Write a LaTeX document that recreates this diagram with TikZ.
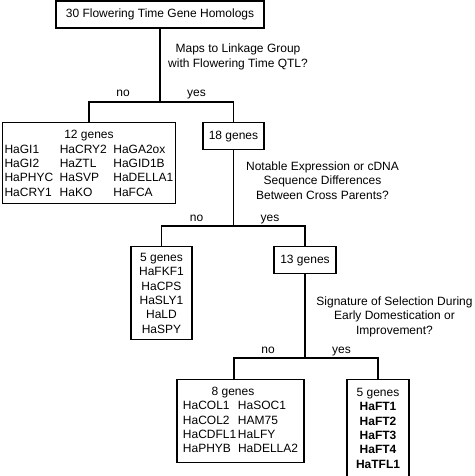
\documentclass[tikz,border=0pt]{standalone}
\usepackage{fontspec}
\setmainfont{Liberation Sans}
\tikzset{
  every node/.style = {font=\fontsize{12}{14.4}\selectfont},
  box/.style = {draw, line width=1.3pt, inner sep=3pt, align=center},
  link/.style = {line width=1.3pt},
  question/.style = {align=center, inner sep=0pt},
  answer/.style = {anchor=base, inner sep=0pt},
}
\newcommand{\splitbox}[4]{%
  %% Split a box into a "no" box and a "yes" box:
  %% Arguments:
  %%    1. Name of the split point
  %%    2. Parent box
  %%    3. Top of the "no" box
  %%    4. Top of the "yes" box
  \draw [link] (#2.south) -- (#1);
  \draw [link] (#3) |- (#1) -| (#4);
  \node [answer] (#1_no) at ([shift={(-37pt,5pt)}] #1) {no};
  \node [answer] (#1_yes) at ([shift={(36.5pt,5pt)}] #1) {yes};
}

\begin{document}
\begin{tikzpicture}[x=1pt, y=-1pt]
  \useasboundingbox (0,0) rectangle (474,476);

  %% All the homologs and the first question
  \node [box, minimum width=208pt, minimum height=27pt] (homologs)
        at (160,14.5) {30 Flowering Time Gene Homologs};
  \node [question] (qtl_q) at (238,57)
        {Maps to Linkage Group\\with Flowering Time QTL?};
  \coordinate (qtl_split) at (160,102);

  \node [box, anchor=north, minimum width=172pt, minimum height=81pt,
         inner xsep=2pt, text height=42pt, text depth=33pt] (no_qtl)
        at (89,122) {%
    \begin{tabular}{@{}l@{\hspace{6.5pt}}l@{\hspace{6.5pt}}l@{}}
      \multicolumn{3}{c}{12 genes}\\
      HaGI1   & HaCRY2 & HaGA2ox\\
      HaGI2   & HaZTL  & HaGID1B\\
      HaPHYC  & HaSVP  & HaDELLA1\\
      HaCRY1  & HaKO   & HaFCA
    \end{tabular}};
  \node [box, anchor=north, minimum width=61pt, minimum height=27pt] (qtl)
        at (233.5,122) {18 genes};
  \splitbox{qtl_split}{homologs}{no_qtl.north}{qtl.north}

  %% Second question
  \node [question] (diff_q) at (322.5,180.5)
        {Notable Expression or cDNA\\Sequence Differences\\Between Cross Parents?};
  \coordinate (diff_split) at (233.5,226);

  \node [box, anchor=north, minimum width=61pt, minimum height=93pt] (no_diff)
        at (161.5,246) {5 genes\\HaFKF1\\HaCPS\\HaSLY1\\HaLD\\HaSPY};
  \node [box, anchor=north, minimum width=62pt, minimum height=27pt] (diff)
        at (305,246) {13 genes};
  \splitbox{diff_split}{qtl}{no_diff.north}{diff.north}

  %% Third question
  \node [question] (sel_q) at (394.5,316.5)
        {Signature of Selection During\\Early Domestication or\\Improvement?};
  \coordinate (sel_split) at (305,358);

  \node [box, anchor=north, minimum width=127pt, minimum height=83pt,
         inner xsep=6pt] (no_sel) at (240.5,379) {%
    \begin{tabular}{@{}l@{\hspace{1.7pt}}l@{}}
      \multicolumn{2}{c}{\hspace{-15pt}8 genes}\\
      HaCOL1  & HaSOC1\\
      HaCOL2  & HAM75\\
      HaCDFL1 & HaLFY\\
      HaPHYB  & HaDELLA2
    \end{tabular}};
  \node [box, anchor=north, minimum width=62pt, minimum height=97pt] (sel)
        at (378,379) {5 genes\\\textbf{HaFT1}\\\textbf{HaFT2}\\\textbf{HaFT3}\\
                      \textbf{HaFT4}\\\textbf{HaTFL1}};
  \splitbox{sel_split}{diff}{[xshift=-6.5pt]no_sel.north}{sel.north}
\end{tikzpicture}
\end{document}
